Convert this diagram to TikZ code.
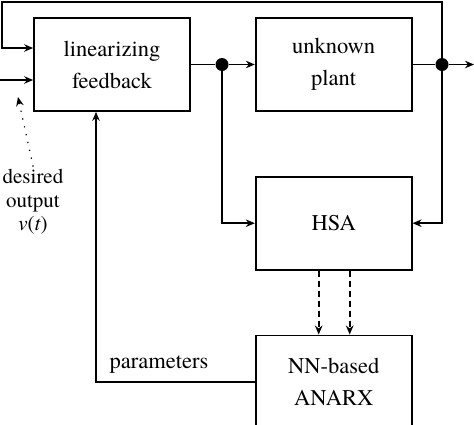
\documentclass[tikz,border=0pt]{standalone}
\usepackage{fontspec}
\setmainfont{texgyretermes}[Extension=.otf, UprightFont=*-regular, ItalicFont=*-italic]
\usetikzlibrary{arrows.meta, positioning}

\tikzset{
  block/.style={draw, line width=1.7pt, minimum width=156pt, minimum height=93pt,
    inner sep=0pt, align=center, font=\fontsize{22.5}{32}\selectfont},
  dot/.style={circle, fill, inner sep=0pt, minimum size=13pt},
  sig/.style={line width=1.7pt, -{Stealth[length=9pt, width=7.5pt]}},
}

\begin{document}
\begin{tikzpicture}[x=1pt, y=-1pt, node distance=64pt]
  \useasboundingbox (0,0) rectangle (474,424);
  \clip (0,0) rectangle (474,424);
  % blocks
  \node[block] (lin) at (112,64.5) {linearizing\\feedback};
  \node[block, right=of lin] (plant) {unknown\\plant};
  \node[block, below=of plant] (hsa) {HSA};
  \node[block, below=of hsa] (nn) {NN-based\\ANARX};
  % branch points
  \node[dot] (d1) at (222,64.5) {};
  \node[dot] (d2) at (442,64.5) {};
  \coordinate (out) at (474,64.5);
  \coordinate (in) at (0,80);
  \coordinate (tl) at (2,2);
  \coordinate (pk) at (96,0);
  \coordinate (dp) at (18,97);
  % signals
  \draw[sig] (lin.east) -- (d1) -- (plant.west);
  \draw[sig] (plant.east) -- (d2) -- (out);
  \draw[sig] (d1) |- (hsa.west);
  \draw[sig] (d2) |- (hsa.east);
  \draw[sig, line width=2.2pt] (d2) |- (tl) |- ([yshift=16.5pt]lin.west);
  \draw[sig] (in) -- (lin.west |- in);
  \draw[sig, dash pattern=on 6pt off 4pt] ([xshift=-15pt]hsa.south) -- ([xshift=-15pt]nn.north);
  \draw[sig, dash pattern=on 6pt off 4pt] ([xshift=16pt]hsa.south) -- ([xshift=16pt]nn.north);
  \draw[sig] (nn.west) -| (pk |- lin.south);
  \node[anchor=base, font=\fontsize{22.5}{32}\selectfont] (par) at (159,368) {parameters};
  % reference input
  \node[align=center, font=\fontsize{21}{23.5}\selectfont] (des) at (33,202)
    {desired\\output\\{\itshape v}({\itshape t})};
  \draw[line width=1.7pt, line cap=round, dash pattern=on 0pt off 8pt,
    -{Stealth[length=9pt, width=7.5pt]}] (des.north) -- (dp);
\end{tikzpicture}
\end{document}
